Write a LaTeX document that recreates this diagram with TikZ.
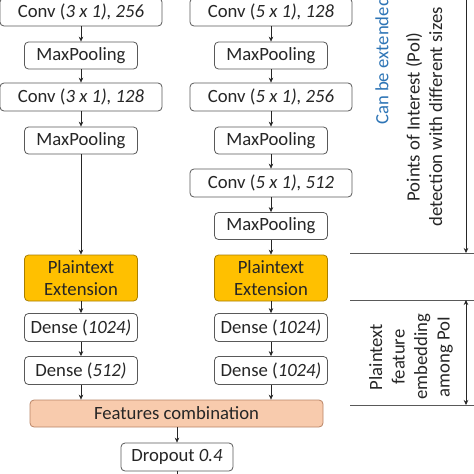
\documentclass[tikz,border=0pt]{standalone}
\usepackage{fontspec}
\setmainfont{Carlito}
\usetikzlibrary{arrows.meta}
\definecolor{boxline}{HTML}{595959}
\definecolor{txt}{HTML}{262626}
\definecolor{ptfill}{HTML}{FFC000}
\definecolor{ptline}{HTML}{A87E00}
\definecolor{fcfill}{HTML}{F8CBAD}
\definecolor{fcline}{HTML}{B98466}
\definecolor{extblue}{HTML}{2E75B6}

\begin{document}
\begin{tikzpicture}[x=1pt,y=-1pt,
	font=\fontsize{18.7}{22.5}\selectfont,text=txt,
	blk/.style={draw=boxline,line width=0.8pt,rounded corners=4pt,inner sep=0pt,fill=white,minimum height=28pt},
	conv/.style={blk,minimum width=162pt},
	pool/.style={blk,minimum width=113pt,minimum height=27pt},
	ext/.style={blk,minimum width=113pt,minimum height=46pt,fill=ptfill,draw=ptline,align=center},
	arr/.style={draw=txt,line width=0.6pt,-{Stealth[length=5pt,width=4.5pt]}},
	side/.style={rotate=90,inner sep=0pt,align=center}]
	\useasboundingbox (0,0) rectangle (474,474);
	\clip (0,0) rectangle (474,474);
	% left branch
	\node[conv] (lc1) at (81,12) {Conv (\textit{3 x 1), 256}};
	\node[pool] (lp1) at (81,55.5) {MaxPooling};
	\node[conv] (lc2) at (81,97) {Conv (\textit{3 x 1), 128}};
	\node[pool] (lp2) at (81,140.5) {MaxPooling};
	\node[ext] (lext) at (81,278) {Plaintext\\Extension};
	\node[blk,minimum width=113pt] (ld1) at (81,327.5) {Dense (\textit{1024)}};
	\node[blk,minimum width=113pt] (ld2) at (81,370.5) {Dense (\textit{512)}};
	% right branch
	\node[conv] (rc1) at (271,12) {Conv (\textit{5 x 1), 128}};
	\node[pool] (rp1) at (271,55.5) {MaxPooling};
	\node[conv] (rc2) at (271,97) {Conv (\textit{5 x 1), 256}};
	\node[pool] (rp2) at (271,140.5) {MaxPooling};
	\node[conv] (rc3) at (271,183) {Conv (\textit{5 x 1), 512}};
	\node[pool] (rp3) at (271,226) {MaxPooling};
	\node[ext] (rext) at (271,278) {Plaintext\\Extension};
	\node[blk,minimum width=113pt] (rd1) at (271,327.5) {Dense (\textit{1024)}};
	\node[blk,minimum width=113pt] (rd2) at (271,370.5) {Dense (\textit{1024)}};
	% merge
	\node[blk,minimum width=293pt,minimum height=27pt,fill=fcfill,draw=fcline] (comb) at (176.5,413.5) {Features combination};
	\node[blk,minimum width=112pt] (drop) at (177,457) {Dropout \textit{0.4}};
	\coordinate (out) at (177,480);
	% arrows
	\draw[arr] (lc1) -- (lp1);
	\draw[arr] (lp1) -- (lc2);
	\draw[arr] (lc2) -- (lp2);
	\draw[arr] (lp2) -- (lext);
	\draw[arr] (lext) -- (ld1);
	\draw[arr] (ld1) -- (ld2);
	\draw[arr] (ld2) -- (ld2 |- comb.north);
	\draw[arr] (rc1) -- (rp1);
	\draw[arr] (rp1) -- (rc2);
	\draw[arr] (rc2) -- (rp2);
	\draw[arr] (rp2) -- (rc3);
	\draw[arr] (rc3) -- (rp3);
	\draw[arr] (rp3) -- (rext);
	\draw[arr] (rext) -- (rd1);
	\draw[arr] (rd1) -- (rd2);
	\draw[arr] (rd2) -- (rd2 |- comb.north);
	\draw[arr] (comb.south -| drop) -- (drop);
	\draw[draw=txt,line width=0.6pt] (drop) -- (out);
	% side marks
	\coordinate (m1a) at (350,253); \coordinate (m1b) at (474,253);
	\coordinate (m2a) at (350,300); \coordinate (m2b) at (474,300);
	\coordinate (m3a) at (350,405); \coordinate (m3b) at (474,405);
	\coordinate (top) at (466,-12);
	\draw[draw=boxline,line width=0.8pt] (m1a) -- (m1b);
	\draw[draw=boxline,line width=0.8pt] (m2a) -- (m2b);
	\draw[draw=boxline,line width=0.8pt] (m3a) -- (m3b);
	\draw[arr,{Stealth[length=5pt,width=4.5pt]}-{Stealth[length=5pt,width=4.5pt]}] (top) -- (top |- m1a);
	\draw[arr,{Stealth[length=5pt,width=4.5pt]}-{Stealth[length=5pt,width=4.5pt]}] (top |- m2a) -- (top |- m3a);
	\node[side,text=extblue,anchor=west] (more) at (382,125) {Can be extended};
	\node[side] (poi) at (424,117) {Points of Interest (PoI)\\detection with different sizes};
	\node[side] (emb) at (411,357) {Plaintext\\feature\\embedding\\among PoI};
\end{tikzpicture}
\end{document}
